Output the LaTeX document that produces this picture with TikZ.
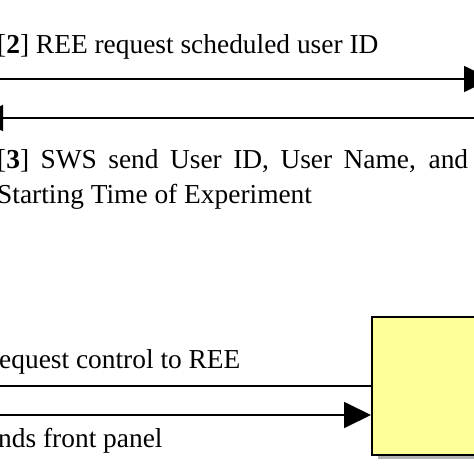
\documentclass[tikz,border=0pt]{standalone}
\usepackage{fontspec}
\setmainfont{Liberation Serif}
\usetikzlibrary{arrows.meta,shadows}
\definecolor{unityellow}{HTML}{FFFF99}

\begin{document}
\begin{tikzpicture}[x=1pt,y=-1pt,
   msg/.style={anchor=base west,inner sep=0pt,font=\fontsize{27.4}{35}\selectfont},
   transition/.style={-{Triangle[length=27pt,width=26pt]},line width=1.8pt},
   link/.style={line width=1.8pt},
   unit/.style={draw,line width=1.8pt,fill=unityellow,anchor=north west,
      minimum width=200pt,minimum height=138pt,inner sep=0pt,
      drop shadow={shadow xshift=6pt,shadow yshift=-4pt,fill=black!30,opacity=1}}]
\useasboundingbox (0,0) rectangle (474,474);
\clip (0,0) rectangle (474,474);

\node[unit] (ree) at (371,316) {};

\coordinate (reqstart) at (-10,79);
\coordinate (reqend) at (491,79);
\coordinate (sendstart) at (490,118);
\coordinate (sendend) at (-24,118);
\coordinate (ctrlstart) at (-10,386);
\coordinate (panelstart) at (-10,415);

\node[msg] (reqtext) at (-3,53) {[\textbf{2}] REE request scheduled user ID};
\node[msg] (sendtext) at (-3,168) {\parbox[t]{471pt}{[\textbf{3}] SWS send User ID, User Name, and Starting Time of Experiment}};
\node[msg] (ctrltext) at (-1,368) {equest control to REE};
\node[msg] (paneltext) at (-2,447) {nds front panel};

\path
	(reqstart) edge[transition] (reqend)
	(sendstart) edge[transition] (sendend)
	(ctrlstart) edge[link] (ctrlstart -| ree.west)
	(panelstart) edge[transition] (panelstart -| ree.west)
;

\end{tikzpicture}
\end{document}
